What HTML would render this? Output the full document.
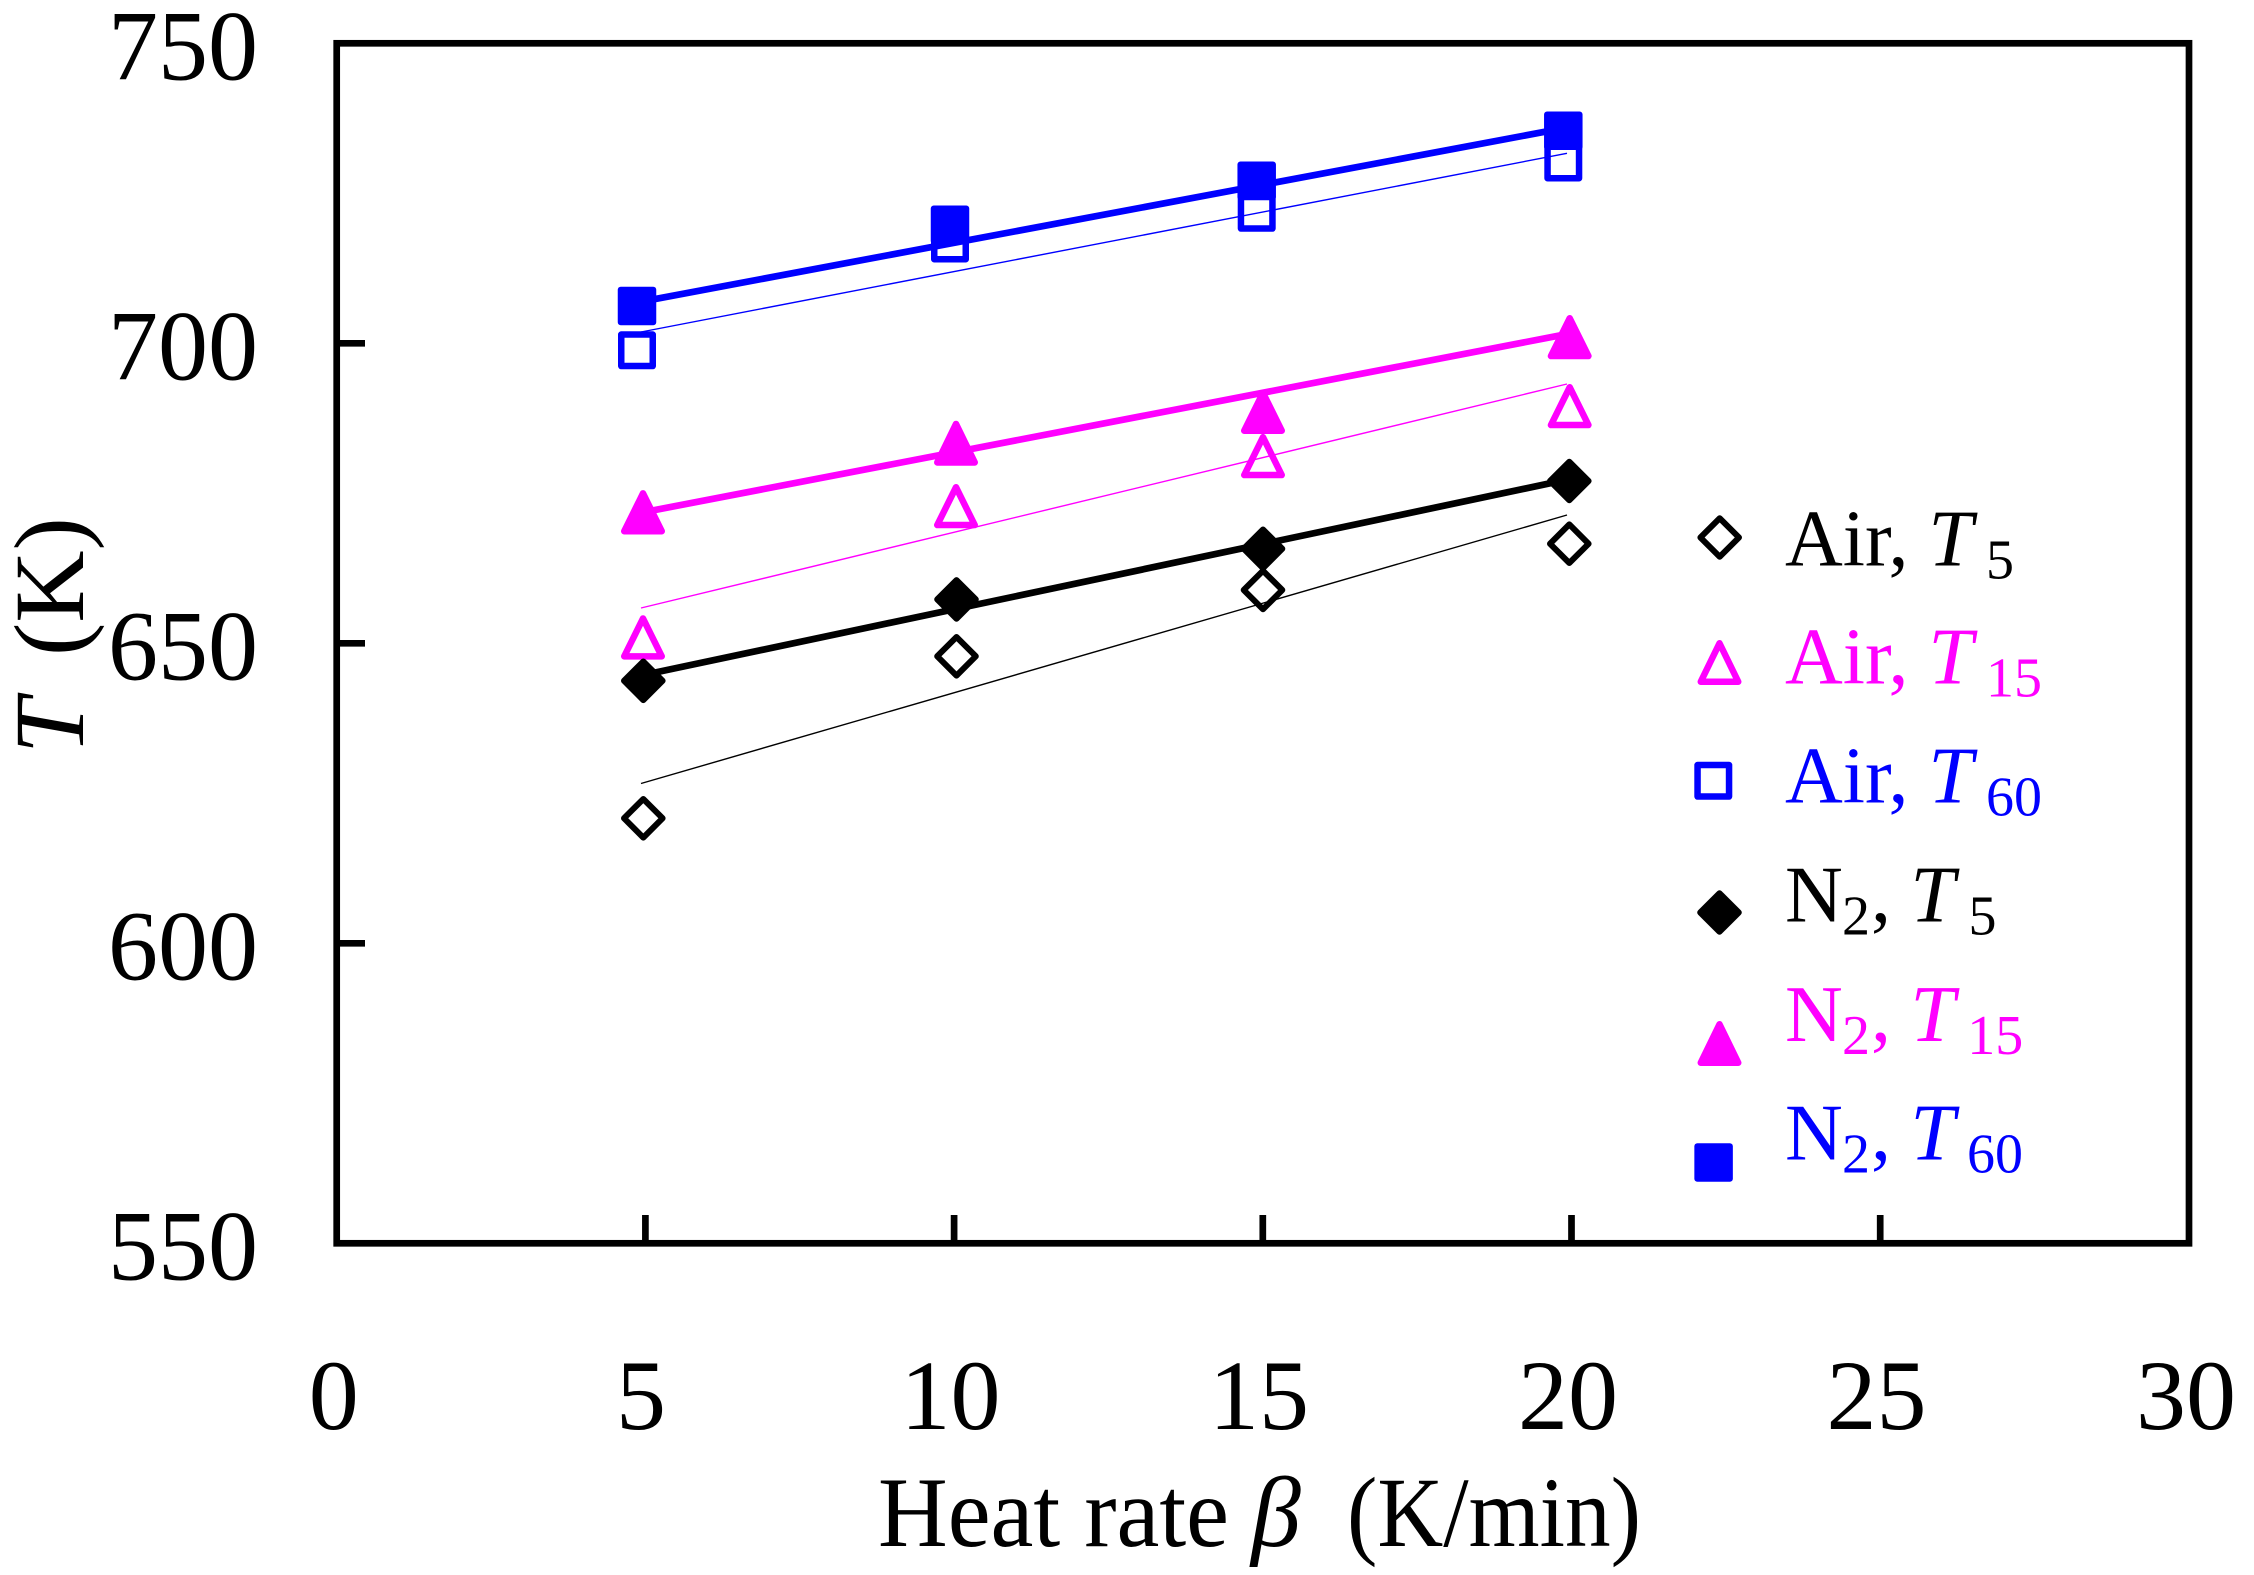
<!DOCTYPE html>
<html>
<head>
<meta charset="utf-8">
<style>
  html,body{margin:0;padding:0;background:#fff;}
  svg{display:block;}
  text{font-family:"Liberation Serif","Times New Roman",serif;}
</style>
</head>
<body>
<svg width="2254" height="1575" viewBox="0 0 2254 1575" xmlns="http://www.w3.org/2000/svg">
  <rect x="0" y="0" width="2254" height="1575" fill="#fff"/>

  <!-- plot frame -->
  <rect x="336.7" y="43.3" width="1852.3" height="1200" fill="none" stroke="#000" stroke-width="6.7"/>

  <!-- ticks (inward) -->
  <g stroke="#000" stroke-width="6.7">
    <line x1="336.7" y1="343.3" x2="365" y2="343.3"/>
    <line x1="336.7" y1="643.3" x2="365" y2="643.3"/>
    <line x1="336.7" y1="943.3" x2="365" y2="943.3"/>
    <line x1="645.4" y1="1243.3" x2="645.4" y2="1215"/>
    <line x1="954.1" y1="1243.3" x2="954.1" y2="1215"/>
    <line x1="1262.8" y1="1243.3" x2="1262.8" y2="1215"/>
    <line x1="1571.5" y1="1243.3" x2="1571.5" y2="1215"/>
    <line x1="1880.2" y1="1243.3" x2="1880.2" y2="1215"/>
  </g>

  <!-- y tick labels -->
  <g font-size="100" text-anchor="end" fill="#000">
    <text x="258" y="79.3">750</text>
    <text x="258" y="379.3">700</text>
    <text x="258" y="679.3">650</text>
    <text x="258" y="979.3">600</text>
    <text x="258" y="1279.3">550</text>
  </g>

  <!-- x tick labels -->
  <g font-size="100" text-anchor="middle" fill="#000">
    <text x="333.7" y="1429">0</text>
    <text x="641" y="1429">5</text>
    <text x="950.5" y="1429">10</text>
    <text x="1259" y="1429">15</text>
    <text x="1568" y="1429">20</text>
    <text x="1876.5" y="1429">25</text>
    <text x="2186" y="1429">30</text>
  </g>

  <!-- axis titles -->
  <text x="878" y="1546" font-size="100" textLength="351" lengthAdjust="spacingAndGlyphs">Heat rate</text>
  <text x="1251" y="1546" font-size="100" font-style="italic">β</text>
  <text x="1347" y="1546" font-size="100" textLength="294" lengthAdjust="spacingAndGlyphs">(K/min)</text>

  <text transform="translate(83,754) rotate(-90)" font-size="100" font-style="italic">T</text>
  <text transform="translate(83,656) rotate(-90)" font-size="100">(K)</text>

  <!-- trend lines -->
  <g fill="none" stroke-linecap="butt">
    <line x1="641" y1="332" x2="1567" y2="153.3" stroke="#0000FF" stroke-width="1.4"/>
    <line x1="641" y1="608" x2="1567" y2="384" stroke="#FF00FF" stroke-width="1.4"/>
    <line x1="641" y1="783.5" x2="1567" y2="515" stroke="#000" stroke-width="1.4"/>
    <line x1="641" y1="301.7" x2="1567" y2="127.6" stroke="#0000FF" stroke-width="6.7"/>
    <line x1="641" y1="512.7" x2="1567" y2="334.1" stroke="#FF00FF" stroke-width="6.7"/>
    <line x1="641" y1="675.5" x2="1567" y2="479.7" stroke="#000" stroke-width="6.7"/>
  </g>

  <!-- open squares (Air T60) -->
  <g fill="none" stroke="#0000FF" stroke-width="6.5" stroke-linejoin="round">
    <rect x="621.25" y="334.55" width="31.5" height="31.5"/>
    <rect x="934.25" y="227.75" width="31.5" height="31.5"/>
    <rect x="1240.95" y="197.05" width="31.5" height="31.5"/>
    <rect x="1547.55" y="146.75" width="31.5" height="31.5"/>
    <rect x="1697.55" y="765.05" width="31.5" height="31.5"/>
  </g>

  <!-- open triangles (Air T15) -->
  <g fill="none" stroke="#FF00FF" stroke-width="6.5" stroke-linejoin="round">
    <path d="M643,618.45 L624.25,656.35 L661.75,656.35 Z"/>
    <path d="M956,487.25 L937.25,525.05 L974.75,525.05 Z"/>
    <path d="M1263,437.15 L1244.25,475.05 L1281.75,475.05 Z"/>
    <path d="M1569.7,387.25 L1550.95,425.05 L1588.45,425.05 Z"/>
    <path d="M1719.5,643.25 L1700.75,681.75 L1738.25,681.75 Z"/>
  </g>

  <!-- open diamonds (Air T5) -->
  <g fill="none" stroke="#000" stroke-width="6" stroke-linejoin="round">
    <path d="M643.3,799 l19.3,19.3 l-19.3,19.3 l-19.3,-19.3 Z"/>
    <path d="M956.5,637 l19.3,19.3 l-19.3,19.3 l-19.3,-19.3 Z"/>
    <path d="M1263,570.7 l19.3,19.3 l-19.3,19.3 l-19.3,-19.3 Z"/>
    <path d="M1569.3,524.4 l19.3,19.3 l-19.3,19.3 l-19.3,-19.3 Z"/>
    <path d="M1719.7,518.2 l19.3,19.3 l-19.3,19.3 l-19.3,-19.3 Z"/>
  </g>

  <!-- filled squares (N2 T60) -->
  <g fill="#0000FF">
    <rect x="617.75" y="286.75" width="38.5" height="38.5" rx="3"/>
    <rect x="930.75" y="205.55" width="38.5" height="38.5" rx="3"/>
    <rect x="1237.45" y="161.55" width="38.5" height="38.5" rx="3"/>
    <rect x="1544.05" y="111.55" width="38.5" height="38.5" rx="3"/>
    <rect x="1694.35" y="1143.25" width="38.5" height="38.5" rx="3"/>
  </g>

  <!-- filled triangles (N2 T15) -->
  <g fill="#FF00FF" stroke="#FF00FF" stroke-width="6.5" stroke-linejoin="round">
    <path d="M643,493.35 L624.25,531.25 L661.75,531.25 Z"/>
    <path d="M956,423.95 L937.25,462.45 L974.75,462.45 Z"/>
    <path d="M1263,392.85 L1244.25,430.75 L1281.75,430.75 Z"/>
    <path d="M1569.7,318.25 L1550.95,356.05 L1588.45,356.05 Z"/>
    <path d="M1719.5,1024.25 L1700.75,1062.75 L1738.25,1062.75 Z"/>
  </g>

  <!-- filled diamonds (N2 T5) -->
  <g fill="#000" stroke="#000" stroke-width="6" stroke-linejoin="round">
    <path d="M643.3,661.5 l19.3,19.3 l-19.3,19.3 l-19.3,-19.3 Z"/>
    <path d="M956.5,580.1 l19.3,19.3 l-19.3,19.3 l-19.3,-19.3 Z"/>
    <path d="M1263,529.5 l19.3,19.3 l-19.3,19.3 l-19.3,-19.3 Z"/>
    <path d="M1569.3,461.7 l19.3,19.3 l-19.3,19.3 l-19.3,-19.3 Z"/>
    <path d="M1719.5,893.2 l19.3,19.3 l-19.3,19.3 l-19.3,-19.3 Z"/>
  </g>

  <!-- legend text -->
  <g font-size="80">
    <text x="1785" y="565.7" fill="#000">Air,</text>
    <text x="1928.4" y="565.7" fill="#000" font-style="italic">T</text>
    <text x="1986" y="578.7" fill="#000" font-size="56">5</text>

    <text x="1785" y="683.3" fill="#FF00FF">Air,</text>
    <text x="1928.4" y="683.3" fill="#FF00FF" font-style="italic">T</text>
    <text x="1986" y="696.3" fill="#FF00FF" font-size="56">15</text>

    <text x="1785" y="802.7" fill="#0000FF">Air,</text>
    <text x="1928.4" y="802.7" fill="#0000FF" font-style="italic">T</text>
    <text x="1986" y="815.7" fill="#0000FF" font-size="56">60</text>

    <text x="1785" y="921.7" fill="#000">N</text>
    <text x="1842" y="934.7" fill="#000" font-size="56">2</text>
    <text x="1871" y="921.7" fill="#000">,</text>
    <text x="1910.4" y="921.7" fill="#000" font-style="italic">T</text>
    <text x="1968.5" y="934.7" fill="#000" font-size="56">5</text>

    <text x="1785" y="1041" fill="#FF00FF">N</text>
    <text x="1842" y="1054" fill="#FF00FF" font-size="56">2</text>
    <text x="1871" y="1041" fill="#FF00FF">,</text>
    <text x="1910.4" y="1041" fill="#FF00FF" font-style="italic">T</text>
    <text x="1967.3" y="1054" fill="#FF00FF" font-size="56">15</text>

    <text x="1785" y="1159.3" fill="#0000FF">N</text>
    <text x="1842" y="1172.3" fill="#0000FF" font-size="56">2</text>
    <text x="1871" y="1159.3" fill="#0000FF">,</text>
    <text x="1910.4" y="1159.3" fill="#0000FF" font-style="italic">T</text>
    <text x="1967" y="1172.3" fill="#0000FF" font-size="56">60</text>
  </g>
</svg>
</body>
</html>
